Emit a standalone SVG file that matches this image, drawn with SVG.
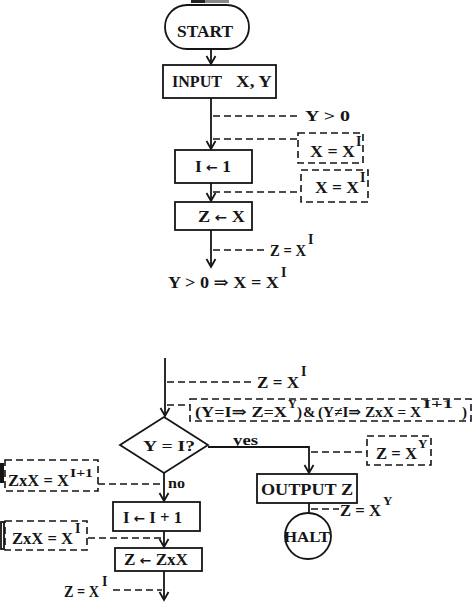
<svg xmlns="http://www.w3.org/2000/svg" width="474" height="602" viewBox="0 0 474 602">
<defs>
<style>
.s{fill:none;stroke:#151515;stroke-width:1.8}
.d{fill:none;stroke:#151515;stroke-width:1.6;stroke-dasharray:7 4}
.t{font-family:"Liberation Serif","DejaVu Serif",serif;font-weight:bold;fill:#151515}
.ar{font-family:"DejaVu Sans",sans-serif;font-weight:bold}
</style>
<marker id="a" viewBox="-10 -6 12 12" refX="0" refY="0" markerWidth="12" markerHeight="12" markerUnits="userSpaceOnUse" orient="auto">
<path d="M-8,-4.5 L0,0 L-8,4.5" fill="none" stroke="#151515" stroke-width="1.8"/>
</marker>
</defs>
<rect width="474" height="602" fill="#fff"/>
<rect x="191" y="0" width="14" height="3" fill="#222"/>
<rect x="205" y="0" width="24" height="3" fill="#888"/>

<g id="connectors">
<line class="s" x1="211" y1="49" x2="211" y2="64" marker-end="url(#a)"/>
<line class="s" x1="211" y1="98" x2="211" y2="149" marker-end="url(#a)"/>
<line class="d" x1="213" y1="116" x2="298" y2="116"/>
<line class="d" x1="213" y1="139" x2="298" y2="139"/>
<line class="s" x1="211" y1="183" x2="211" y2="201" marker-end="url(#a)"/>
<line class="d" x1="213" y1="192" x2="301" y2="192"/>
<line class="s" x1="211" y1="230" x2="211" y2="267" marker-end="url(#a)"/>
<line class="d" x1="213" y1="250" x2="264" y2="250"/>

<line class="s" x1="165" y1="358" x2="165" y2="416" marker-end="url(#a)"/>
<line class="d" x1="167" y1="382" x2="255" y2="382"/>
<line class="d" x1="167" y1="405" x2="190" y2="405"/>
<polyline class="s" points="208,447 309,447 309,473" marker-end="url(#a)"/>
<line class="d" x1="311" y1="452" x2="367" y2="452"/>
<line class="s" x1="309" y1="503" x2="309" y2="513"/>
<line class="d" x1="311" y1="509" x2="339" y2="509"/>
<line class="s" x1="164" y1="473" x2="164" y2="501" marker-end="url(#a)"/>
<line class="d" x1="98" y1="484" x2="162" y2="484"/>
<line class="s" x1="164" y1="531" x2="164" y2="547" marker-end="url(#a)"/>
<line class="d" x1="88" y1="538" x2="162" y2="538"/>
<line class="s" x1="164" y1="571" x2="164" y2="600" marker-end="url(#a)"/>
<line class="d" x1="113" y1="590" x2="162" y2="590"/>
</g>

<g id="start">
<rect class="s" x="165" y="5" width="84" height="44" rx="22" ry="22"/>
<text class="t" x="177" y="37" font-size="16" textLength="56" lengthAdjust="spacingAndGlyphs">START</text>
</g>
<g id="input">
<rect class="s" x="163" y="65" width="113" height="33"/>
<text class="t" font-size="17" y="87"><tspan x="172" textLength="50" lengthAdjust="spacingAndGlyphs">INPUT</tspan><tspan x="236" textLength="36" lengthAdjust="spacingAndGlyphs">X, Y</tspan></text>
</g>
<g id="label-y-gt-0">
<text class="t" x="305" y="121" font-size="15" textLength="45" lengthAdjust="spacingAndGlyphs">Y &gt; 0</text>
</g>
<g id="assert1">
<rect class="d" x="298" y="133" width="65" height="30"/>
<text class="t" font-size="17" y="157"><tspan x="310" textLength="45" lengthAdjust="spacingAndGlyphs">X = X</tspan><tspan x="356" y="146" font-size="14">I</tspan></text>
</g>
<g id="i-gets-1">
<rect class="s" x="175" y="150" width="77" height="33"/>
<text class="t" x="195" y="172" font-size="16" textLength="36" lengthAdjust="spacingAndGlyphs">I <tspan class="ar" font-size="13">←</tspan> 1</text>
</g>
<g id="assert2">
<rect class="d" x="301" y="170" width="67" height="32"/>
<text class="t" font-size="17" y="193"><tspan x="315" textLength="44" lengthAdjust="spacingAndGlyphs">X = X</tspan><tspan x="360" y="182" font-size="14">I</tspan></text>
</g>
<g id="z-gets-x">
<rect class="s" x="175" y="202" width="77" height="28"/>
<text class="t" x="198" y="222" font-size="16" textLength="47" lengthAdjust="spacingAndGlyphs">Z <tspan class="ar" font-size="13">←</tspan> X</text>
</g>
<g id="assert3">
<text class="t" font-size="16" y="256"><tspan x="270" textLength="36" lengthAdjust="spacingAndGlyphs">Z = X</tspan><tspan x="308" y="244" font-size="14">I</tspan></text>
</g>
<g id="conclusion">
<text class="t" font-size="16" y="288"><tspan x="168" textLength="111" lengthAdjust="spacingAndGlyphs">Y &gt; 0 ⇒ X = X</tspan><tspan x="281" y="277" font-size="14">I</tspan></text>
</g>

<g id="assert4">
<text class="t" font-size="16" y="388"><tspan x="257" textLength="42" lengthAdjust="spacingAndGlyphs">Z = X</tspan><tspan x="301" y="376" font-size="14">I</tspan></text>
</g>
<g id="invariant">
<rect class="d" x="190" y="399" width="281" height="22"/>
<text class="t" font-size="15" y="417"><tspan x="195" textLength="92" lengthAdjust="spacingAndGlyphs">(Y=I⇒ Z=X</tspan><tspan x="288" y="408" font-size="12">Y</tspan><tspan x="297" y="417">)</tspan><tspan x="303">&amp;</tspan><tspan x="318" textLength="103" lengthAdjust="spacingAndGlyphs">(Y≠I⇒ ZxX = X</tspan><tspan x="423" y="408" font-size="12" textLength="30" lengthAdjust="spacingAndGlyphs">I+1</tspan><tspan x="462" y="417">)</tspan></text>
</g>
<g id="decision">
<polygon class="s" points="164,417 208,445 164,473 120,445"/>
<text class="t" x="143" y="451" font-size="15" textLength="52" lengthAdjust="spacingAndGlyphs">Y = I?</text>
</g>
<g id="label-yes">
<text class="t" x="233" y="445" font-size="15" textLength="25" lengthAdjust="spacingAndGlyphs">yes</text>
</g>
<g id="label-no">
<text class="t" x="168" y="488" font-size="15" textLength="17" lengthAdjust="spacingAndGlyphs">no</text>
</g>
<g id="assert5">
<rect class="d" x="367" y="436" width="64" height="29"/>
<text class="t" font-size="16" y="459"><tspan x="376" textLength="41" lengthAdjust="spacingAndGlyphs">Z = X</tspan><tspan x="418" y="448" font-size="13">Y</tspan></text>
</g>
<g id="output">
<rect class="s" x="257" y="474" width="100" height="29"/>
<text class="t" x="261" y="495" font-size="16" textLength="92" lengthAdjust="spacingAndGlyphs">OUTPUT Z</text>
</g>
<g id="halt">
<circle class="s" cx="308" cy="536" r="23"/>
<text class="t" x="284" y="542" font-size="14" textLength="46" lengthAdjust="spacingAndGlyphs">HALT</text>
</g>
<g id="assert6">
<text class="t" font-size="16" y="516"><tspan x="340" textLength="41" lengthAdjust="spacingAndGlyphs">Z = X</tspan><tspan x="383" y="505" font-size="13">Y</tspan></text>
</g>
<g id="assert7">
<rect class="d" x="5" y="460" width="93" height="31"/>
<rect x="0" y="463" width="4" height="20" fill="#151515"/>
<text class="t" font-size="16" y="486"><tspan x="8" textLength="61" lengthAdjust="spacingAndGlyphs">ZxX = X</tspan><tspan x="70" y="477" font-size="13" textLength="23" lengthAdjust="spacingAndGlyphs">I+1</tspan></text>
</g>
<g id="i-inc">
<rect class="s" x="113" y="502" width="87" height="29"/>
<text class="t" x="123" y="523" font-size="16" textLength="59" lengthAdjust="spacingAndGlyphs">I <tspan class="ar" font-size="13">←</tspan> I + 1</text>
</g>
<g id="assert8">
<rect class="d" x="5" y="521" width="82" height="29"/>
<rect class="s" x="1" y="522" width="3" height="27" stroke-width="1.2"/>
<text class="t" font-size="16" y="544"><tspan x="12" textLength="61" lengthAdjust="spacingAndGlyphs">ZxX = X</tspan><tspan x="75" y="533" font-size="14">I</tspan></text>
</g>
<g id="z-gets-zxx">
<rect class="s" x="115" y="548" width="87" height="23"/>
<text class="t" x="124" y="565" font-size="16" textLength="64" lengthAdjust="spacingAndGlyphs">Z <tspan class="ar" font-size="13">←</tspan> ZxX</text>
</g>
<g id="assert9">
<text class="t" font-size="16" y="597"><tspan x="64" textLength="35" lengthAdjust="spacingAndGlyphs">Z = X</tspan><tspan x="102" y="586" font-size="14">I</tspan></text>
</g>
</svg>
